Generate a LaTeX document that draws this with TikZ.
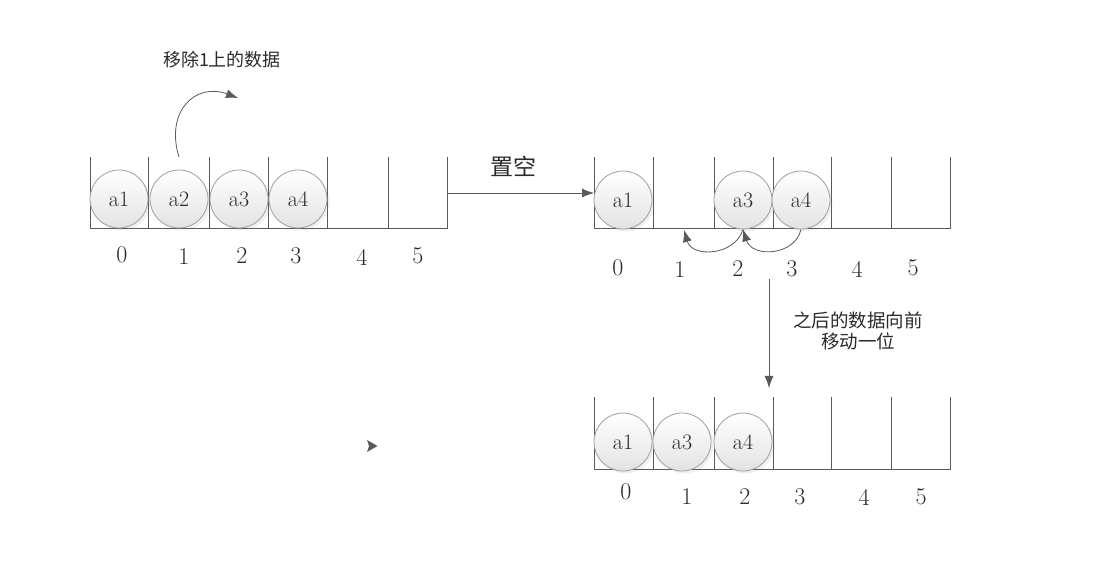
\documentclass[tikz,border=0pt]{standalone}
\usepackage{fontspec}
\usepackage{xcolor}
\usepackage{tikz}
\usetikzlibrary{arrows.meta,shadows}
\newfontfamily\cjk{Noto Sans CJK SC}
\definecolor{linegray}{HTML}{5A5A5A}
\definecolor{textgray}{HTML}{2A2A2A}

\tikzset{
  cellline/.style={line width=1pt,linegray},
  ball/.style={circle,draw=gray!75,line width=0.8pt,minimum size=58pt,inner sep=0pt,
    top color=white,bottom color=gray!22,
    drop shadow={shadow xshift=2.5pt,shadow yshift=-2.5pt,opacity=0.12},
    font=\fontsize{22}{24}\selectfont,text=textgray},
  idx/.style={font=\fontsize{24}{26}\selectfont,textgray},
  note/.style={textgray,align=center},
  move/.style={line width=0.8pt,linegray,-{Latex[length=12pt,width=9pt]}}
}

\begin{document}
\begin{tikzpicture}[x=1pt,y=-1pt]
\useasboundingbox (0,0) rectangle (1101,561);
% array before removal
\draw[cellline] (90,157) - - (90,229) - - (447,229) - - (447,157);
\draw[cellline] (148,157) - - (148,229);
\draw[cellline] (209,157) - - (209,229);
\draw[cellline] (268,157) - - (268,229);
\draw[cellline] (327,157) - - (327,229);
\draw[cellline] (388,157) - - (388,229);
\node[ball] (p1) at (119,199) {a1};
\node[ball] (p2) at (179,199) {a2};
\node[ball] (p3) at (239,199) {a3};
\node[ball] (p4) at (298,199) {a4};
\node[idx] (pi0) at (122,255) {0};
\node[idx] (pi1) at (184,257) {1};
\node[idx] (pi2) at (242,256) {2};
\node[idx] (pi3) at (296,256) {3};
\node[idx] (pi4) at (362,257) {4};
\node[idx] (pi5) at (418,256) {5};
% array with empty slot
\draw[cellline] (594,157) - - (594,229) - - (950,229) - - (950,157);
\draw[cellline] (653,157) - - (653,229);
\draw[cellline] (714,157) - - (714,229);
\draw[cellline] (773,157) - - (773,229);
\draw[cellline] (831,157) - - (831,229);
\draw[cellline] (891,157) - - (891,229);
\node[ball] (q1) at (623,200) {a1};
\node[ball] (q3) at (743,200) {a3};
\node[ball] (q4) at (801,200) {a4};
\node[idx] (qi0) at (618,268) {0};
\node[idx] (qi1) at (680,270) {1};
\node[idx] (qi2) at (738,269) {2};
\node[idx] (qi3) at (792,269) {3};
\node[idx] (qi4) at (857,269) {4};
\node[idx] (qi5) at (913,268) {5};
% array after shifting
\draw[cellline] (594,397) - - (594,469) - - (950,469) - - (950,397);
\draw[cellline] (653,397) - - (653,469);
\draw[cellline] (714,397) - - (714,469);
\draw[cellline] (773,397) - - (773,469);
\draw[cellline] (831,397) - - (831,469);
\draw[cellline] (891,397) - - (891,469);
\node[ball] (s1) at (623,442) {a1};
\node[ball] (s3) at (682,442) {a3};
\node[ball] (s4) at (743,442) {a4};
\node[idx] (si0) at (626,492) {0};
\node[idx] (si1) at (687,497) {1};
\node[idx] (si2) at (745,497) {2};
\node[idx] (si3) at (800,497) {3};
\node[idx] (si4) at (864,497) {4};
\node[idx] (si5) at (921,497) {5};
% arrows and notes
\coordinate (lift) at (179,157);
\coordinate (drop) at (238,98);
\draw[move] (lift) .. controls (165,112) and (195,82) .. (drop);
\node[note,font=\cjk\fontsize{18}{21}\selectfont] (remove) at (222,60) {移除1上的数据};
\coordinate (out1) at (447,193);
\coordinate (in2) at (594,193);
\draw[move] (out1) - - (in2);
\node[note,font=\cjk\fontsize{23}{25}\selectfont] (clear) at (513,166) {置空};
\coordinate (gap) at (684,230);
\draw[move] (q3.south) .. controls (735,256) and (692,258) .. (gap);
\draw[move] (q4.south) .. controls (795,256) and (752,258) .. (q3.south);
\coordinate (down1) at (769,279);
\coordinate (down2) at (769,388);
\draw[move] (down1) - - (down2);
\node[note,font=\cjk\fontsize{18.5}{21}\selectfont] (shift) at (858,331) {之后的数据向前\\移动一位};
\fill[linegray] (367,440) - - (377.5,446) - - (367,452) - - (369,446) - - cycle;
\end{tikzpicture}
\end{document}
